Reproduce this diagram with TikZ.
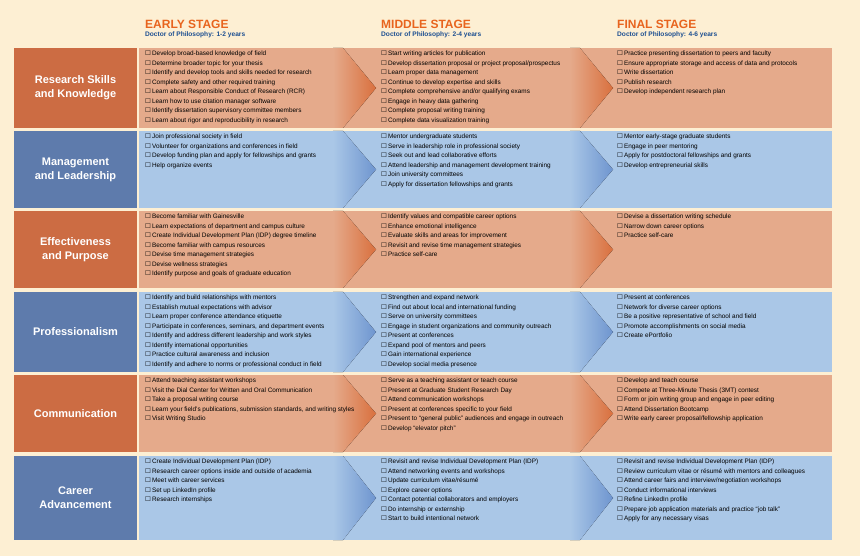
\documentclass[tikz,border=0pt]{standalone}
\usepackage{fontspec}
\setmainfont{Liberation Sans}
\newfontfamily\symfont{DejaVu Sans}
\definecolor{bgcream}{HTML}{FDEFD3}
\definecolor{orlabel}{HTML}{CC6C43}
\definecolor{orpanel}{HTML}{E5AA8B}
\definecolor{orarrow}{HTML}{D9703E}
\definecolor{bllabel}{HTML}{5E7BAC}
\definecolor{blpanel}{HTML}{AAC7E7}
\definecolor{blarrow}{HTML}{6E95CF}
\definecolor{titleor}{HTML}{E8641E}
\definecolor{titlebl}{HTML}{1D4F91}
\newcommand{\cb}{{\symfont\fontsize{6.5}{9}\selectfont ☐}\,}
\newcommand{\stagerow}[8]{%
  % #1 name, #2 top, #3 bottom, #4 label, #5 palette, #6-#8 items
  \fill[#5label] (14,-#2) rectangle (137,-#3);
  \fill[#5panel] (139,-#2) rectangle (832,-#3);
  \foreach \ax in {333,570}{
    \fill[left color=#5panel,right color=#5arrow]
      (\ax,-#2) -- (\ax+10,-#2) -- (\ax+43,{-(#2+#3)/2}) -- (\ax+10,-#3) -- (\ax,-#3) -- cycle;}
  \node[rowlabel] (#1-label) at (75.5,{-(#2+#3)/2}) {#4};
  \node[items] (#1-early) at (145,-#2-3) {#6};
  \node[items] (#1-middle) at (381,-#2-3) {#7};
  \node[items] (#1-final) at (617,-#2-3) {#8};
}
\begin{document}
\begin{tikzpicture}[x=1pt,y=1pt,
    rowlabel/.style={text=white,font=\fontsize{11}{14}\selectfont\bfseries,align=center},
    items/.style={anchor=north west,align=left,inner sep=0pt,font=\fontsize{6.4}{9.5}\selectfont},
    stagetitle/.style={anchor=west,text=titleor,font=\fontsize{12}{14}\selectfont\bfseries,inner sep=0pt},
    stagesub/.style={anchor=west,text=titlebl,font=\fontsize{6.6}{8}\selectfont\bfseries,inner sep=0pt}]
  \fill[bgcream] (0,0) rectangle (860,-556);
  \useasboundingbox (0,0) rectangle (860,-556);
  % stage headings
  \node[stagetitle] (early) at (145,-24) {EARLY STAGE};
  \node[stagesub] (early-sub) at (145,-35) {Doctor of Philosophy: 1-2 years};
  \node[stagetitle] (middle) at (381,-24) {MIDDLE STAGE};
  \node[stagesub] (middle-sub) at (381,-35) {Doctor of Philosophy: 2-4 years};
  \node[stagetitle] (final) at (617,-24) {FINAL STAGE};
  \node[stagesub] (final-sub) at (617,-35) {Doctor of Philosophy: 4-6 years};
  % rows
  \stagerow{research}{48}{128}{Research Skills\\and Knowledge}{or}
    {\cb Develop broad-based knowledge of field\\\cb Determine broader topic for your thesis\\\cb Identify and develop tools and skills needed for research\\\cb Complete safety and other required training\\\cb Learn about Responsible Conduct of Research (RCR)\\\cb Learn how to use citation manager software\\\cb Identify dissertation supervisory committee members\\\cb Learn about rigor and reproducibility in research}
    {\cb Start writing articles for publication\\\cb Develop dissertation proposal or project proposal/prospectus\\\cb Learn proper data management\\\cb Continue to develop expertise and skills\\\cb Complete comprehensive and/or qualifying exams\\\cb Engage in heavy data gathering\\\cb Complete proposal writing training\\\cb Complete data visualization training}
    {\cb Practice presenting dissertation to peers and faculty\\\cb Ensure appropriate storage and access of data and protocols\\\cb Write dissertation\\\cb Publish research\\\cb Develop independent research plan}
  \stagerow{management}{131}{208}{Management\\and Leadership}{bl}
    {\cb Join professional society in field\\\cb Volunteer for organizations and conferences in field\\\cb Develop funding plan and apply for fellowships and grants\\\cb Help organize events}
    {\cb Mentor undergraduate students\\\cb Serve in leadership role in professional society\\\cb Seek out and lead collaborative efforts\\\cb Attend leadership and management development training\\\cb Join university committees\\\cb Apply for dissertation fellowships and grants}
    {\cb Mentor early-stage graduate students\\\cb Engage in peer mentoring\\\cb Apply for postdoctoral fellowships and grants\\\cb Develop entrepreneurial skills}
  \stagerow{effectiveness}{211}{288}{Effectiveness\\and Purpose}{or}
    {\cb Become familiar with Gainesville\\\cb Learn expectations of department and campus culture\\\cb Create Individual Development Plan (IDP) degree timeline\\\cb Become familiar with campus resources\\\cb Devise time management strategies\\\cb Devise wellness strategies\\\cb Identify purpose and goals of graduate education}
    {\cb Identify values and compatible career options\\\cb Enhance emotional intelligence\\\cb Evaluate skills and areas for improvement\\\cb Revisit and revise time management strategies\\\cb Practice self-care}
    {\cb Devise a dissertation writing schedule\\\cb Narrow down career options\\\cb Practice self-care}
  \stagerow{professionalism}{292}{372}{Professionalism}{bl}
    {\cb Identify and build relationships with mentors\\\cb Establish mutual expectations with advisor\\\cb Learn proper conference attendance etiquette\\\cb Participate in conferences, seminars, and department events\\\cb Identify and address different leadership and work styles\\\cb Identify international opportunities\\\cb Practice cultural awareness and inclusion\\\cb Identify and adhere to norms or professional conduct in field}
    {\cb Strengthen and expand network\\\cb Find out about local and international funding\\\cb Serve on university committees\\\cb Engage in student organizations and community outreach\\\cb Present at conferences\\\cb Expand pool of mentors and peers\\\cb Gain international experience\\\cb Develop social media presence}
    {\cb Present at conferences\\\cb Network for diverse career options\\\cb Be a positive representative of school and field\\\cb Promote accomplishments on social media\\\cb Create ePortfolio}
  \stagerow{communication}{375}{452}{Communication}{or}
    {\cb Attend teaching assistant workshops\\\cb Visit the Dial Center for Written and Oral Communication\\\cb Take a proposal writing course\\\cb Learn your field's publications, submission standards, and writing styles\\\cb Visit Writing Studio}
    {\cb Serve as a teaching assistant or teach course\\\cb Present at Graduate Student Research Day\\\cb Attend communication workshops\\\cb Present at conferences specific to your field\\\cb Present to ``general public'' audiences and engage in outreach\\\cb Develop ``elevator pitch''}
    {\cb Develop and teach course\\\cb Compete at Three-Minute Thesis (3MT) contest\\\cb Form or join writing group and engage in peer editing\\\cb Attend Dissertation Bootcamp\\\cb Write early career proposal/fellowship application}
  \stagerow{career}{456}{540}{Career\\Advancement}{bl}
    {\cb Create Individual Development Plan (IDP)\\\cb Research career options inside and outside of academia\\\cb Meet with career services\\\cb Set up LinkedIn profile\\\cb Research internships}
    {\cb Revisit and revise Individual Development Plan (IDP)\\\cb Attend networking events and workshops\\\cb Update curriculum vitae/résumé\\\cb Explore career options\\\cb Contact potential collaborators and employers\\\cb Do internship or externship\\\cb Start to build intentional network}
    {\cb Revisit and revise Individual Development Plan (IDP)\\\cb Review curriculum vitae or résumé with mentors and colleagues\\\cb Attend career fairs and interview/negotiation workshops\\\cb Conduct informational interviews\\\cb Refine LinkedIn profile\\\cb Prepare job application materials and practice ``job talk''\\\cb Apply for any necessary visas}
\end{tikzpicture}
\end{document}
